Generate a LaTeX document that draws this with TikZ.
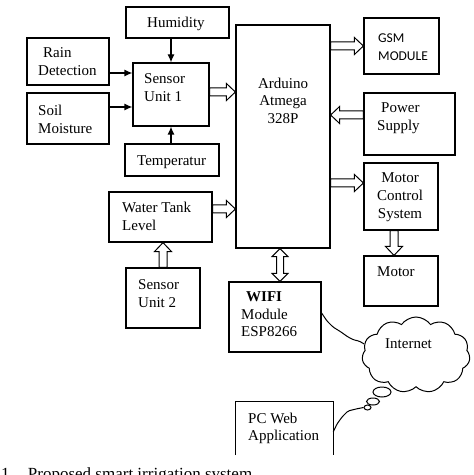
\documentclass[tikz,border=0pt]{standalone}
\usepackage{fontspec}
\setmainfont{Liberation Serif}
\newfontfamily\gsmfont{Carlito}
\usetikzlibrary{calc,arrows.meta,shapes.symbols,shapes.geometric}
\begin{document}
\begin{tikzpicture}[x=1bp,y=-1bp,
  box/.style={draw, line width=1.2bp, inner sep=0, rectangle},
  txt/.style={inner sep=0, align=left, font=\fontsize{15bp}{18bp}\selectfont},
  arr/.style={line width=1.2bp, -{Latex[length=8bp,width=7bp]}},
  wire/.style={line width=1bp, rounded corners=1.5bp},
  bubble/.style={draw, ellipse, line width=1bp, inner sep=0},
  hollow/.style={draw, fill=white, line width=1bp, to path={
    ($(\tikztostart)!4bp!90:(\tikztotarget)$)
    -- ($(\tikztotarget)!9bp!(\tikztostart)!4bp!90:(\tikztotarget)$)
    -- ($(\tikztotarget)!9bp!(\tikztostart)!8.5bp!90:(\tikztotarget)$)
    -- (\tikztotarget)
    -- ($(\tikztotarget)!9bp!(\tikztostart)!8.5bp!-90:(\tikztotarget)$)
    -- ($(\tikztotarget)!9bp!(\tikztostart)!4bp!-90:(\tikztotarget)$)
    -- ($(\tikztostart)!4bp!-90:(\tikztotarget)$)
    -- cycle}},
  hollowboth/.style={draw, fill=white, line width=1bp, to path={
    (\tikztostart)
    -- ($(\tikztostart)!8bp!(\tikztotarget)!8bp!90:(\tikztotarget)$)
    -- ($(\tikztostart)!8bp!(\tikztotarget)!3.5bp!90:(\tikztotarget)$)
    -- ($(\tikztotarget)!8bp!(\tikztostart)!3.5bp!90:(\tikztotarget)$)
    -- ($(\tikztotarget)!8bp!(\tikztostart)!8bp!90:(\tikztotarget)$)
    -- (\tikztotarget)
    -- ($(\tikztotarget)!8bp!(\tikztostart)!8bp!-90:(\tikztotarget)$)
    -- ($(\tikztotarget)!8bp!(\tikztostart)!3.5bp!-90:(\tikztotarget)$)
    -- ($(\tikztostart)!8bp!(\tikztotarget)!3.5bp!-90:(\tikztotarget)$)
    -- ($(\tikztostart)!8bp!(\tikztotarget)!8bp!-90:(\tikztotarget)$)
    -- cycle}}
  ]
\useasboundingbox (0,0) rectangle (474,475);

% boxes
\node[box, minimum width=103bp, minimum height=31bp] (hum) at (177.5,22.5) {};
\node[box, minimum width=82bp, minimum height=47bp] (rain) at (68,61.5) {};
\node[box, minimum width=82bp, minimum height=51bp] (soil) at (68,118.5) {};
\node[box, minimum width=76bp, minimum height=63bp] (su1) at (171,94.5) {};
\node[box, minimum width=94bp, minimum height=32bp] (temp) at (172,160) {};
\node[box, minimum width=103bp, minimum height=50bp] (tank) at (160.5,217) {};
\node[box, minimum width=74bp, minimum height=60bp] (su2) at (163,298) {};
\node[box, minimum width=94bp, minimum height=223bp] (ard) at (283,136.5) {};
\node[box, minimum width=75bp, minimum height=56bp] (gsm) at (401.5,46) {};
\node[box, minimum width=91bp, minimum height=62bp] (pwr) at (409.5,124) {};
\node[box, minimum width=74bp, minimum height=67bp] (mcs) at (401,196.5) {};
\node[box, minimum width=74bp, minimum height=50bp] (mot) at (401,281) {};
\node[box, minimum width=92bp, minimum height=70bp] (wifi) at (275,317) {};
\node[inner sep=0, minimum width=97bp, minimum height=53bp] (pc) at (284.5,428.5) {};
\draw[line width=1.2bp] (pc.south west) -- (pc.north west) -- (pc.north east) -- (pc.south east);

% cloud and bubbles
\node[cloud, draw, line width=1bp, cloud puffs=11, cloud puff arc=110, aspect=1.45,
      minimum width=108bp, minimum height=76bp, inner sep=0] (net) at (416,355) {};
\node[bubble, minimum width=18bp, minimum height=10bp] (b1) at (382,392) {};
\node[bubble, minimum width=13bp, minimum height=7bp] (b2) at (373,401.5) {};
\node[bubble, minimum width=7bp, minimum height=5bp] (b3) at (367.5,407.5) {};

% texts
\node[txt, anchor=base west] (thum) at (147,28) {Humidity};
\node[txt, anchor=north west] (train) at (38,47.8) {\hspace{5bp}Rain\\Detection};
\node[txt, anchor=north west] (tsoil) at (38,104.8) {Soil\\Moisture};
\node[txt, anchor=north west] (tsu1) at (144,73.8) {Sensor\\Unit 1};
\node[txt, anchor=base west] (ttemp) at (137,166) {Temperatur};
\node[txt, anchor=north west] (ttank) at (122,201.8) {Water Tank\\Level};
\node[txt, anchor=north west] (tsu2) at (138,279.8) {Sensor\\Unit 2};
\node[txt, anchor=north, align=center, font=\fontsize{15bp}{17.5bp}\selectfont] (tard) at (283,77.8) {Arduino\\Atmega\\328P};
\node[txt, anchor=north west, font=\gsmfont\fontsize{13.5bp}{18bp}\selectfont] (tgsm) at (378,33.3) {GSM\\MODULE};
\node[txt, anchor=north west] (tpwr) at (377,102.8) {\hspace{4bp}Power\\Supply};
\node[txt, anchor=north, align=center] (tmcs) at (400,172.8) {Motor\\Control\\System};
\node[txt, anchor=base west] (tmot) at (377,276) {Motor};
\node[txt, anchor=north west, font=\fontsize{15bp}{17.5bp}\selectfont] (twifi) at (241,291.8) {\hspace{5bp}\textbf{WIFI}\\Module\\ESP8266};
\node[txt, anchor=base west] (tnet) at (385,348) {Internet};
\node[txt, anchor=north west, font=\fontsize{15bp}{17bp}\selectfont] (tpc) at (248,412.8) {PC Web\\Application};
\node[inner sep=0, anchor=base west, font=\fontsize{17bp}{20bp}\selectfont] (cap) at (1,479) {1.\hspace{14bp}Proposed smart irrigation system};

% solid arrows into sensor unit 1
\draw[arr] (hum.south -| su1.north) -- (su1.north);
\coordinate (rainout) at ([yshift=-11.5bp]rain.east);
\draw[arr] (rainout) -- (rainout -| su1.west);
\coordinate (soilout) at ([yshift=11.5bp]soil.east);
\draw[arr] (soilout) -- (soilout -| su1.west);
\draw[arr] (temp.north -| su1.south) -- (su1.south);

% hollow arrows
\coordinate (a1s) at ([yshift=2.5bp]su1.east);
\coordinate (a1t) at (a1s -| ard.west);
\draw[hollow] (a1s) to (a1t);
\coordinate (a2s) at ([yshift=8bp]tank.east);
\coordinate (a2t) at (a2s -| ard.west);
\draw[hollow] (a2s) to (a2t);
\coordinate (a3s) at (su2.north);
\coordinate (a3t) at (su2.north |- tank.south);
\draw[hollow] (a3s) to (a3t);
\coordinate (a4t) at (gsm.west);
\coordinate (a4s) at (a4t -| ard.east);
\draw[hollow] (a4s) to (a4t);
\coordinate (a5s) at ([yshift=9bp]pwr.west);
\coordinate (a5t) at (a5s -| ard.east);
\draw[hollow] (a5s) to (a5t);
\coordinate (a6t) at ([yshift=13.5bp]mcs.west);
\coordinate (a6s) at (a6t -| ard.east);
\draw[hollow] (a6s) to (a6t);
\coordinate (a7s) at ([xshift=-7bp]mcs.south);
\coordinate (a7t) at (a7s |- mot.north);
\draw[hollow] (a7s) to (a7t);
\coordinate (a8s) at ([xshift=-3bp]ard.south);
\coordinate (a8t) at (a8s |- wifi.north);
\draw[hollowboth] (a8s) to (a8t);

% wires to the cloud
\coordinate (wout) at ([yshift=4bp]wifi.east);
\draw[wire] (wout) -- (327,321) -- (333,327) -- (341,332) -- (348,337) -- (354,340) -- (359,341) -- (net.168);
\coordinate (pcout) at ([yshift=-3.5bp]pc.east);
\draw[wire] (pcout) -- (337,424) -- (342,417) -- (348,411) -- (356,409) -- (b3.west);
\end{tikzpicture}
\end{document}
